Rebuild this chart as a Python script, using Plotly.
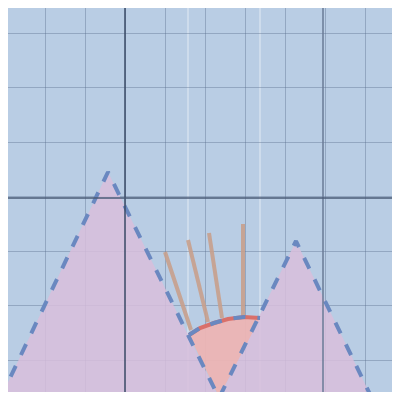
import numpy as np
import plotly.graph_objects as go

# polygon vertices (x, y) with y measured upward from bottom
poly_x = [-10, 108, 219, 296, 380, 380, -10]
poly_y = [-20, 228, 2, 159, -15, -15, -20]
# wedge: apex and arc
apex = (219, 3)
arc_x = [189, 200, 214, 228, 244, 260]
arc_y = [65, 72, 77, 81, 83, 82]
# rays
ray_x0 = [165, 188, 209, 243]
ray_y0 = [148, 160, 167, 176]
ray_x1 = [191, 208, 222, 243]
ray_y1 = [70, 78, 82, 84]

fig = go.Figure()
fig.add_trace(go.Scatter(x=poly_x, y=poly_y, fill="toself", fillcolor="rgba(216,190,220,0.85)",
                         mode="lines", line=dict(color="rgba(0,0,0,0)"), hoverinfo="skip"))
fig.add_trace(go.Scatter(x=[apex[0]] + arc_x + [apex[0]], y=[apex[1]] + arc_y + [apex[1]], fill="toself",
                         fillcolor="rgba(236,180,180,0.95)", mode="lines", line=dict(color="rgba(0,0,0,0)")))
for a, b, c, d in zip(ray_x0, ray_y0, ray_x1, ray_y1):
    fig.add_trace(go.Scatter(x=[a, c], y=[b, d], mode="lines",
                             line=dict(color="rgba(200,160,140,0.9)", width=4)))
fig.add_trace(go.Scatter(x=arc_x, y=arc_y, mode="lines", line=dict(color="#d9706a", width=4)))
fig.add_trace(go.Scatter(x=arc_x, y=arc_y, mode="lines", line=dict(color="#6a88c0", width=4, dash="dash")))
fig.add_trace(go.Scatter(x=poly_x[:5], y=poly_y[:5], mode="lines",
                         line=dict(color="#6a88c0", width=4, dash="dash")))
for xv in [188, 260]:
    fig.add_shape(type="line", x0=xv, x1=xv, y0=-50, y1=450, line=dict(color="rgba(255,255,255,0.6)", width=1), layer="below")
fig.add_shape(type="line", x0=125, x1=125, y0=-50, y1=450, line=dict(color="#3a4a66", width=1.5))
fig.add_shape(type="line", x0=323, x1=323, y0=-50, y1=450, line=dict(color="#6a7a96", width=1.5))
fig.add_shape(type="line", x0=-50, x1=450, y0=202, y1=202, line=dict(color="#4a5a76", width=1.5))
fig.update_layout(width=384, height=384, margin=dict(l=0, r=0, t=0, b=0), showlegend=False,
                  plot_bgcolor="#b9cde4", paper_bgcolor="#b9cde4")
fig.update_xaxes(range=[8, 392], showticklabels=False, zeroline=False, tick0=5, dtick=40,
                 gridcolor="rgba(90,110,140,0.4)", gridwidth=1)
fig.update_yaxes(range=[8, 392], showticklabels=False, zeroline=False, tick0=40, dtick=54.5,
                 gridcolor="rgba(90,110,140,0.4)", gridwidth=1)
fig.write_html("out.html")
